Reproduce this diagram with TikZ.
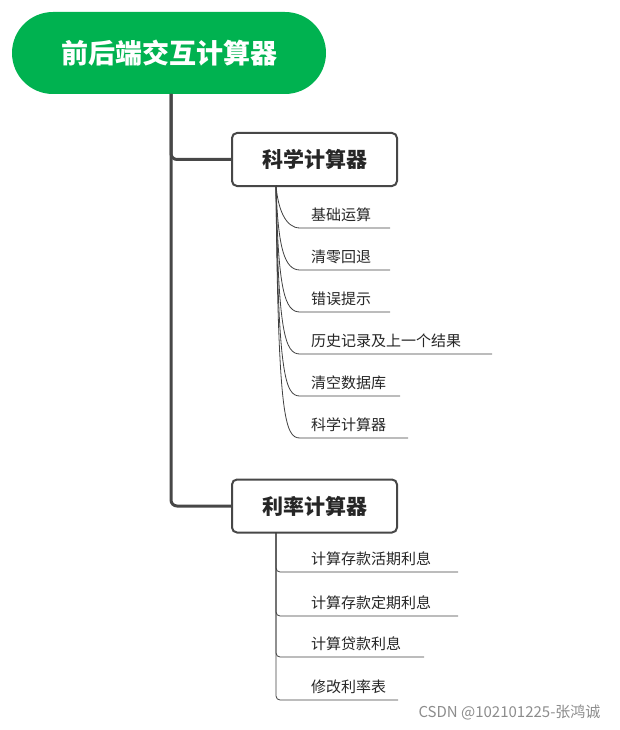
\documentclass[tikz,border=0pt]{standalone}
\usepackage{fontspec}
\setmainfont{Noto Sans CJK SC}
\begin{document}
\begin{tikzpicture}[x=1pt,y=-1pt,
 trunk/.style={line width=3pt,draw=black!72},
 leafline/.style={line width=0.8pt,draw=black!75},
 sub/.style={draw=black!72,line width=2pt,rounded corners=5pt,fill=white,minimum width=165pt,minimum height=53pt,font=\bfseries\fontsize{21}{24}\selectfont,text=black!85},
 leaf/.style={anchor=base west,font=\fontsize{15}{18}\selectfont,text=black!85,inner sep=0pt}]
\useasboundingbox (0,0) rectangle (619,730);
\node[fill={rgb,255:red,0;green,178;blue,80},rounded corners=41pt,minimum width=314pt,minimum height=82pt,text=white,font=\bfseries\fontsize{27}{30}\selectfont] (root) at (169,53) {前后端交互计算器};
\node[sub] (s1) at (314.5,159.5) {科学计算器};
\node[sub] (s2) at (314.5,506) {利率计算器};
\coordinate (t0) at (171,94);
\draw[trunk,rounded corners=6pt] (t0) |- (s1.west);
\draw[trunk,rounded corners=6pt] (t0) |- (s2.west);
\coordinate (p1) at (276,186);
\foreach \y/\e/\t [count=\i] in {228/390/基础运算,270/390/清零回退,312/390/错误提示,354/492/历史记录及上一个结果,396/400/清空数据库,438/408/科学计算器}{
  \coordinate (u\i) at (\e,\y);
  \draw[leafline] (p1) .. controls (278,\y-20) and (285,\y) .. (300,\y) -- (u\i);
  \node[leaf] (l\i) at (311,\y-8) {\t};
}
\coordinate (p2) at (276,532);
\foreach \y/\e/\t [count=\i] in {572/458/计算存款活期利息,616/458/计算存款定期利息,657/424/计算贷款利息,700/398/修改利率表}{
  \coordinate (v\i) at (\e,\y);
  \draw[leafline,rounded corners=4pt] (p2) |- (v\i);
  \node[leaf] (m\i) at (311,\y-8) {\t};
}
\node[anchor=east,text=black!45,font=\fontsize{15}{18}\selectfont] (wm) at (604,712) {CSDN @102101225-张鸿诚};
\end{tikzpicture}
\end{document}
